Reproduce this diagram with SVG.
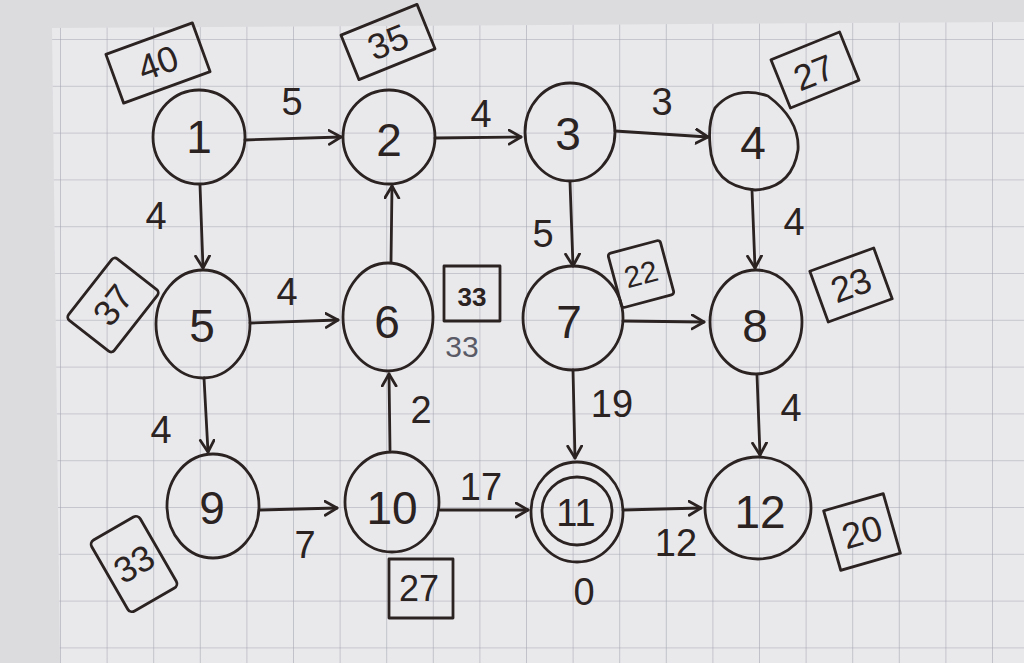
<svg xmlns="http://www.w3.org/2000/svg" width="1024" height="663" viewBox="0 0 1024 663">
<defs>
<style>
.ink{stroke:#2b2222;fill:none;stroke-width:2.8;stroke-linecap:round;stroke-linejoin:round}
.edge{stroke:#2b2222;fill:none;stroke-width:2.8;stroke-linecap:round;marker-end:url(#arr)}
.nl{font-family:"Liberation Sans",Arial,sans-serif;font-size:46px;fill:#2b2222;text-anchor:middle;dominant-baseline:central}
.el{font-family:"Liberation Sans",Arial,sans-serif;font-size:38px;fill:#2b2222;text-anchor:middle;dominant-baseline:central}
.sc{font-family:"Liberation Sans",Arial,sans-serif;font-size:36px;fill:#2b2222;text-anchor:middle;dominant-baseline:central}
.grid{stroke:#a3a4b0;stroke-width:1.1;fill:none}
</style>
<marker id="arr" markerUnits="userSpaceOnUse" markerWidth="20" markerHeight="20" refX="13" refY="8" orient="auto">
<path d="M1,1 L13,8 L1,15" fill="none" stroke="#2b2222" stroke-width="2.8" stroke-linecap="round" stroke-linejoin="round"/>
</marker>
<pattern id="gp" x="60" y="39" width="46.6" height="46.8" patternUnits="userSpaceOnUse">
<path d="M0,0 V46.8 M0,0 H46.6" class="grid"/>
</pattern>
</defs>
<rect x="0" y="0" width="1024" height="663" fill="#dcdcdf"/>
<path d="M52,28 L1024,22 L1024,663 L60,663 Z" fill="#e9e9ec"/>
<path d="M52,28 L1024,22 L1024,663 L60,663 Z" fill="url(#gp)"/>

<g id="connectors">
<path class="edge" d="M245,140 L341,137"/>
<text class="el" x="292" y="102">5</text>
<path class="edge" d="M435,138 L521,137"/>
<text class="el" x="481" y="114">4</text>
<path class="edge" d="M615,131 L708,137"/>
<text class="el" x="662" y="102">3</text>
<path class="edge" d="M200,185 L203,268"/>
<text class="el" x="156" y="216">4</text>
<path class="edge" d="M250,323 L338,320"/>
<text class="el" x="287" y="292">4</text>
<path class="edge" d="M391,262 L392,186"/>
<path class="edge" d="M570,182 L573,266"/>
<text class="el" x="543" y="234">5</text>
<path class="edge" d="M752,190 L755,268"/>
<text class="el" x="794" y="222">4</text>
<path class="edge" d="M623,321 L704,322"/>
<path class="edge" d="M204,378 L208,452"/>
<text class="el" x="161" y="430">4</text>
<path class="edge" d="M390,450 L389,374"/>
<text class="el" x="421" y="410">2</text>
<path class="edge" d="M573,370 L575,458"/>
<text class="el" x="612" y="404">19</text>
<path class="edge" d="M757,375 L760,455"/>
<text class="el" x="791" y="408">4</text>
<path class="edge" d="M260,510 L337,508"/>
<text class="el" x="305" y="545">7</text>
<path class="edge" d="M440,510 L528,510"/>
<text class="el" x="481" y="487">17</text>
<path class="edge" d="M623,510 L701,508"/>
<text class="el" x="676" y="543">12</text>
</g>

<g id="node1">
<ellipse class="ink" cx="199" cy="137" rx="46" ry="47"/>
<text class="nl" x="199" y="137">1</text>
<g transform="translate(158,63) rotate(-20)"><rect class="ink" x="-46" y="-26" width="92" height="52"/><text class="sc" x="0" y="0">40</text></g>
</g>
<g id="node2">
<ellipse class="ink" cx="389" cy="137" rx="46" ry="47"/>
<text class="nl" x="389" y="140">2</text>
<g transform="translate(388,42) rotate(-22)"><rect class="ink" x="-41" y="-24" width="82" height="48"/><text class="sc" x="0" y="0">35</text></g>
</g>
<g id="node3">
<ellipse class="ink" cx="570" cy="132" rx="45" ry="49"/>
<text class="nl" x="568" y="134">3</text>
</g>
<g id="node4">
<path class="ink" d="M715,108 Q735,85 768,96 Q800,120 798,150 Q792,188 755,190 Q712,186 710,145 Q708,122 715,108 Z"/>
<text class="nl" x="753" y="143">4</text>
<g transform="translate(815,70) rotate(-22)"><rect class="ink" x="-37" y="-26" width="74" height="52"/><text class="sc" x="-2" y="2">27</text></g>
</g>
<g id="node5">
<ellipse class="ink" cx="203" cy="324" rx="47" ry="54"/>
<text class="nl" x="202" y="326">5</text>
<g transform="translate(113,305) rotate(-52)"><rect class="ink" x="-39" y="-29" width="78" height="58" rx="4"/><text class="sc" x="0" y="0">37</text></g>
</g>
<g id="node6">
<ellipse class="ink" cx="388" cy="317" rx="45" ry="54"/>
<text class="nl" x="387" y="322">6</text>
<rect class="ink" x="444" y="266" width="56" height="55"/>
<text class="sc" x="472" y="297" style="font-size:26px;font-weight:bold">33</text>
<text class="sc" x="462" y="346" style="font-size:30px;fill:#5a5a66">33</text>
</g>
<g id="node7">
<ellipse class="ink" cx="573" cy="318" rx="50" ry="52"/>
<text class="nl" x="569" y="322">7</text>
<g transform="translate(641,274) rotate(-15)"><rect class="ink" x="-27" y="-28" width="54" height="56" rx="3"/><text class="sc" x="0" y="0" style="font-size:30px">22</text></g>
</g>
<g id="node8">
<ellipse class="ink" cx="756" cy="322" rx="46" ry="52"/>
<text class="nl" x="755" y="326">8</text>
<g transform="translate(851,285) rotate(-20)"><rect class="ink" x="-34" y="-27" width="68" height="54"/><text class="sc" x="0" y="0">23</text></g>
</g>
<g id="node9">
<ellipse class="ink" cx="213" cy="506" rx="46" ry="52"/>
<text class="nl" x="212" y="508">9</text>
<g transform="translate(134,564) rotate(-30)"><rect class="ink" x="-28" y="-41" width="56" height="82" rx="5"/><text class="sc" x="0" y="0">33</text></g>
</g>
<g id="node10">
<ellipse class="ink" cx="392" cy="502" rx="47" ry="50"/>
<text class="nl" x="392" y="508">10</text>
<rect class="ink" x="389" y="559" width="64" height="59"/>
<text class="sc" x="419" y="588">27</text>
</g>
<g id="node11">
<ellipse class="ink" cx="577" cy="512" rx="46" ry="50"/>
<ellipse class="ink" cx="577" cy="511" rx="35" ry="34"/>
<text class="nl" x="576" y="513" style="font-size:38px">11</text>
<text class="el" x="584" y="592">0</text>
</g>
<g id="node12">
<ellipse class="ink" cx="758" cy="508" rx="53" ry="51"/>
<text class="nl" x="760" y="512">12</text>
<g transform="translate(862,532) rotate(-16)"><rect class="ink" x="-31" y="-31" width="62" height="62"/><text class="sc" x="0" y="0">20</text></g>
</g>
</svg>
